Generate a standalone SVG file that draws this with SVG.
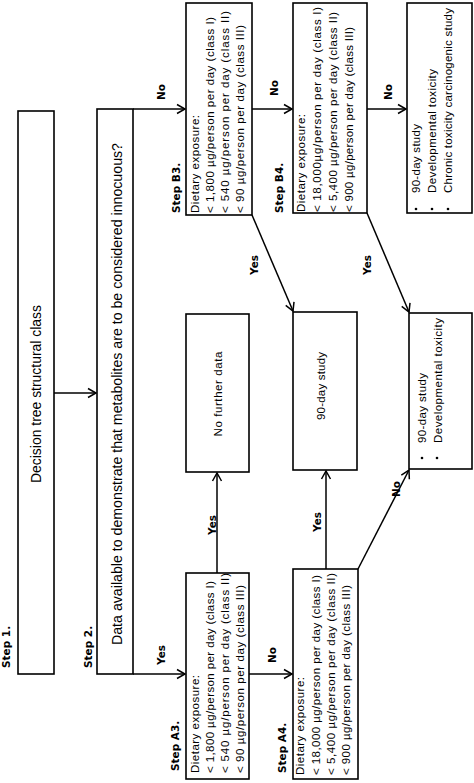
<svg xmlns="http://www.w3.org/2000/svg" width="474" height="783" viewBox="0 0 474 783">
<defs>
<style>
.box{fill:#fff;stroke:#000;stroke-width:1.6}
.ln{fill:none;stroke:#000;stroke-width:1.5}
.t{font-family:"Liberation Sans",Arial,sans-serif;font-size:11.5px;fill:#000}
.tb{font-family:"DejaVu Sans",Verdana,sans-serif;font-size:10.5px;font-weight:bold;fill:#000}
.big{font-family:"Liberation Sans",Arial,sans-serif;font-size:14px;fill:#000}
</style>
<marker id="ah" markerUnits="userSpaceOnUse" markerWidth="12" markerHeight="12" refX="10" refY="6" orient="auto">
<path d="M2,1.5 L10,6 L2,10.5" fill="none" stroke="#000" stroke-width="1.5"/>
</marker>
</defs>
<rect width="474" height="783" fill="#fff"/>

<g id="connectors">
<path class="ln" d="M54,393 H96" marker-end="url(#ah)"/>
<path class="ln" d="M133,674 H185" marker-end="url(#ah)"/>
<path class="ln" d="M133,109 H185" marker-end="url(#ah)"/>
<path class="ln" d="M252,109 H292" marker-end="url(#ah)"/>
<path class="ln" d="M367,109 H406" marker-end="url(#ah)"/>
<path class="ln" d="M249,674 H292" marker-end="url(#ah)"/>
<path class="ln" d="M217,573 V473" marker-end="url(#ah)"/>
<path class="ln" d="M326,569 V471" marker-end="url(#ah)"/>
<path class="ln" d="M252,215 L293,311" marker-end="url(#ah)"/>
<path class="ln" d="M367,213 L409,312" marker-end="url(#ah)"/>
<path class="ln" d="M358,569 L409,470" marker-end="url(#ah)"/>
<text class="tb" transform="translate(165,665) rotate(-90)">Yes</text>
<text class="tb" transform="translate(165,100) rotate(-90)">No</text>
<text class="tb" transform="translate(216,535) rotate(-90)">Yes</text>
<text class="tb" transform="translate(276,663) rotate(-90)">No</text>
<text class="tb" transform="translate(321,532) rotate(-90)">Yes</text>
<text class="tb" transform="translate(278,96) rotate(-90)">No</text>
<text class="tb" transform="translate(392,100) rotate(-90)">No</text>
<text class="tb" transform="translate(258,275) rotate(-90)">Yes</text>
<text class="tb" transform="translate(371,275) rotate(-90)">Yes</text>
<text class="tb" transform="translate(400,497) rotate(-90)">No</text>
</g>

<g id="step1">
<rect class="box" x="18" y="111" width="36" height="563"/>
<text class="tb" transform="translate(10,668) rotate(-90)">Step 1.</text>
<text class="big" transform="translate(41,483) rotate(-90)" textLength="178" lengthAdjust="spacingAndGlyphs">Decision tree structural class</text>
</g>

<g id="step2">
<rect class="box" x="97" y="109" width="36" height="565"/>
<text class="tb" transform="translate(92,668) rotate(-90)">Step 2.</text>
<text class="big" transform="translate(122,645) rotate(-90)" textLength="502" lengthAdjust="spacingAndGlyphs">Data available to demonstrate that metabolites are to be considered innocuous?</text>
</g>

<g id="stepA3">
<rect class="box" x="186" y="573" width="63" height="206"/>
<text class="tb" transform="translate(179,771) rotate(-90)">Step A3.</text>
<text class="t" transform="translate(199,773) rotate(-90)" textLength="98">Dietary exposure:</text>
<text class="t" transform="translate(214,773) rotate(-90)" textLength="192">&lt; 1,800 µg/person per day (class I)</text>
<text class="t" transform="translate(229,773) rotate(-90)" textLength="200">&lt; 540  µg/person per day (class II)</text>
<text class="t" transform="translate(244,773) rotate(-90)" textLength="188">&lt; 90  µg/person per day (class III)</text>
</g>

<g id="stepA4">
<rect class="box" x="293" y="569" width="65" height="210"/>
<text class="tb" transform="translate(286,773) rotate(-90)">Step A4.</text>
<text class="t" transform="translate(304,775) rotate(-90)" textLength="98">Dietary exposure:</text>
<text class="t" transform="translate(320,775) rotate(-90)" textLength="200">&lt; 18,000 µg/person per day (class I)</text>
<text class="t" transform="translate(335,775) rotate(-90)" textLength="202">&lt; 5,400 µg/person per day (class II)</text>
<text class="t" transform="translate(350,775) rotate(-90)" textLength="190">&lt; 900  µg/person per day (class III)</text>
</g>

<g id="stepB3">
<rect class="box" x="186" y="3" width="66" height="212"/>
<text class="tb" transform="translate(180,213) rotate(-90)">Step B3.</text>
<text class="t" transform="translate(199,213) rotate(-90)" textLength="98">Dietary exposure:</text>
<text class="t" transform="translate(214,213) rotate(-90)" textLength="196">&lt; 1,800 µg/person per day (class I)</text>
<text class="t" transform="translate(229,213) rotate(-90)" textLength="202">&lt; 540  µg/person per day (class II)</text>
<text class="t" transform="translate(244,213) rotate(-90)" textLength="188">&lt; 90  µg/person per day (class III)</text>
</g>

<g id="stepB4">
<rect class="box" x="293" y="3" width="74" height="210"/>
<text class="tb" transform="translate(283,213) rotate(-90)">Step B4.</text>
<text class="t" transform="translate(305,212) rotate(-90)" textLength="98">Dietary exposure:</text>
<text class="t" transform="translate(321,212) rotate(-90)" textLength="205">&lt; 18,000µg/person per day (class I)</text>
<text class="t" transform="translate(337,212) rotate(-90)" textLength="200">&lt; 5,400 µg/person per day (class II)</text>
<text class="t" transform="translate(353,212) rotate(-90)" textLength="185">&lt; 900  µg/person per day (class III)</text>
</g>

<g id="final1">
<rect class="box" x="407" y="3" width="65" height="210"/>
<circle cx="416" cy="209" r="1.3"/>
<circle cx="432" cy="209" r="1.3"/>
<circle cx="448" cy="209" r="1.3"/>
<text class="t" transform="translate(420,193) rotate(-90)" textLength="69">90-day study</text>
<text class="t" transform="translate(436,193) rotate(-90)" textLength="124">Developmental toxicity</text>
<text class="t" transform="translate(452,193) rotate(-90)" textLength="185">Chronic toxicity carcinogenic study</text>
</g>

<g id="nofurther">
<rect class="box" x="186" y="314" width="63" height="158"/>
<text class="t" text-anchor="middle" transform="translate(222,394) rotate(-90)" textLength="85">No further data</text>
</g>

<g id="ninety">
<rect class="box" x="293" y="312" width="64" height="158"/>
<text class="t" text-anchor="middle" transform="translate(325,386) rotate(-90)" textLength="68">90-day study</text>
</g>

<g id="final2">
<rect class="box" x="409" y="313" width="63" height="156"/>
<circle cx="422" cy="458" r="1.3"/>
<circle cx="437" cy="458" r="1.3"/>
<text class="t" transform="translate(426,443) rotate(-90)" textLength="70">90-day study</text>
<text class="t" transform="translate(442,443) rotate(-90)" textLength="125">Developmental toxicity</text>
</g>
</svg>
